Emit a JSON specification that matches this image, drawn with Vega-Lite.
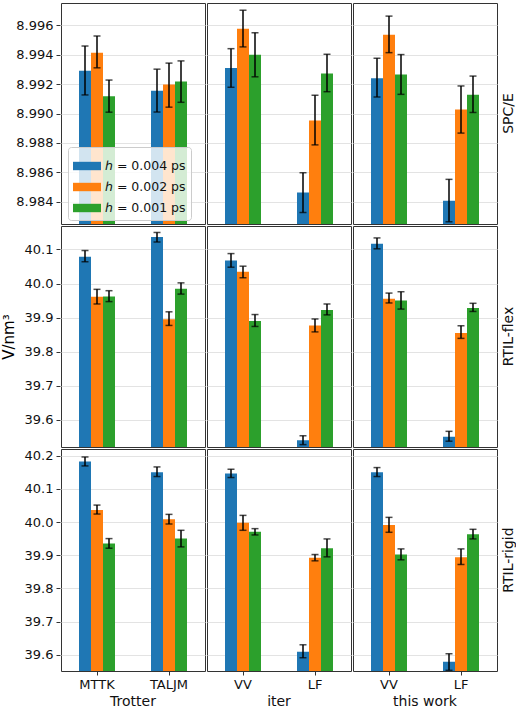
{
  "$schema": "https://vega.github.io/schema/vega-lite/v6.json",
  "padding": {"left": 1, "top": 2, "right": 0, "bottom": 0},
  "data": {
    "values": [
      {"system": "SPC/E", "group": "Trotter", "method": "MTTK", "h": "0.004", "v": 8.9929, "lo": 8.99126, "hi": 8.99458},
      {"system": "SPC/E", "group": "Trotter", "method": "MTTK", "h": "0.002", "v": 8.99413, "lo": 8.9931, "hi": 8.99526},
      {"system": "SPC/E", "group": "Trotter", "method": "MTTK", "h": "0.001", "v": 8.99117, "lo": 8.99009, "hi": 8.99227},
      {"system": "SPC/E", "group": "Trotter", "method": "TALJM", "h": "0.004", "v": 8.99155, "lo": 8.9901, "hi": 8.99301},
      {"system": "SPC/E", "group": "Trotter", "method": "TALJM", "h": "0.002", "v": 8.99196, "lo": 8.99043, "hi": 8.99342},
      {"system": "SPC/E", "group": "Trotter", "method": "TALJM", "h": "0.001", "v": 8.99218, "lo": 8.99076, "hi": 8.99357},
      {"system": "SPC/E", "group": "iter", "method": "VV", "h": "0.004", "v": 8.99308, "lo": 8.99178, "hi": 8.9944},
      {"system": "SPC/E", "group": "iter", "method": "VV", "h": "0.002", "v": 8.99575, "lo": 8.99452, "hi": 8.99701},
      {"system": "SPC/E", "group": "iter", "method": "VV", "h": "0.001", "v": 8.99398, "lo": 8.99249, "hi": 8.99548},
      {"system": "SPC/E", "group": "iter", "method": "LF", "h": "0.004", "v": 8.98463, "lo": 8.98328, "hi": 8.98598},
      {"system": "SPC/E", "group": "iter", "method": "LF", "h": "0.002", "v": 8.98953, "lo": 8.98787, "hi": 8.99124},
      {"system": "SPC/E", "group": "iter", "method": "LF", "h": "0.001", "v": 8.99272, "lo": 8.99148, "hi": 8.99402},
      {"system": "SPC/E", "group": "this work", "method": "VV", "h": "0.004", "v": 8.9924, "lo": 8.99112, "hi": 8.99375},
      {"system": "SPC/E", "group": "this work", "method": "VV", "h": "0.002", "v": 8.99535, "lo": 8.99413, "hi": 8.99661},
      {"system": "SPC/E", "group": "this work", "method": "VV", "h": "0.001", "v": 8.99265, "lo": 8.9913, "hi": 8.994},
      {"system": "SPC/E", "group": "this work", "method": "LF", "h": "0.004", "v": 8.98407, "lo": 8.98265, "hi": 8.98553},
      {"system": "SPC/E", "group": "this work", "method": "LF", "h": "0.002", "v": 8.99027, "lo": 8.98867, "hi": 8.99187},
      {"system": "SPC/E", "group": "this work", "method": "LF", "h": "0.001", "v": 8.99128, "lo": 8.99007, "hi": 8.99254},

      {"system": "RTIL-flex", "group": "Trotter", "method": "MTTK", "h": "0.004", "v": 40.079, "lo": 40.064, "hi": 40.097},
      {"system": "RTIL-flex", "group": "Trotter", "method": "MTTK", "h": "0.002", "v": 39.961, "lo": 39.94, "hi": 39.983},
      {"system": "RTIL-flex", "group": "Trotter", "method": "MTTK", "h": "0.001", "v": 39.962, "lo": 39.947, "hi": 39.979},
      {"system": "RTIL-flex", "group": "Trotter", "method": "TALJM", "h": "0.004", "v": 40.137, "lo": 40.122, "hi": 40.15},
      {"system": "RTIL-flex", "group": "Trotter", "method": "TALJM", "h": "0.002", "v": 39.895, "lo": 39.877, "hi": 39.917},
      {"system": "RTIL-flex", "group": "Trotter", "method": "TALJM", "h": "0.001", "v": 39.985, "lo": 39.969, "hi": 40.002},
      {"system": "RTIL-flex", "group": "iter", "method": "VV", "h": "0.004", "v": 40.068, "lo": 40.048, "hi": 40.088},
      {"system": "RTIL-flex", "group": "iter", "method": "VV", "h": "0.002", "v": 40.035, "lo": 40.017, "hi": 40.051},
      {"system": "RTIL-flex", "group": "iter", "method": "VV", "h": "0.001", "v": 39.89, "lo": 39.874, "hi": 39.909},
      {"system": "RTIL-flex", "group": "iter", "method": "LF", "h": "0.004", "v": 39.54, "lo": 39.527, "hi": 39.553},
      {"system": "RTIL-flex", "group": "iter", "method": "LF", "h": "0.002", "v": 39.877, "lo": 39.858, "hi": 39.896},
      {"system": "RTIL-flex", "group": "iter", "method": "LF", "h": "0.001", "v": 39.922, "lo": 39.908, "hi": 39.94},
      {"system": "RTIL-flex", "group": "this work", "method": "VV", "h": "0.004", "v": 40.117, "lo": 40.102, "hi": 40.134},
      {"system": "RTIL-flex", "group": "this work", "method": "VV", "h": "0.002", "v": 39.955, "lo": 39.943, "hi": 39.972},
      {"system": "RTIL-flex", "group": "this work", "method": "VV", "h": "0.001", "v": 39.95, "lo": 39.925, "hi": 39.976},
      {"system": "RTIL-flex", "group": "this work", "method": "LF", "h": "0.004", "v": 39.55, "lo": 39.537, "hi": 39.566},
      {"system": "RTIL-flex", "group": "this work", "method": "LF", "h": "0.002", "v": 39.855, "lo": 39.839, "hi": 39.876},
      {"system": "RTIL-flex", "group": "this work", "method": "LF", "h": "0.001", "v": 39.928, "lo": 39.918, "hi": 39.942},

      {"system": "RTIL-rigid", "group": "Trotter", "method": "MTTK", "h": "0.004", "v": 40.182, "lo": 40.169, "hi": 40.196},
      {"system": "RTIL-rigid", "group": "Trotter", "method": "MTTK", "h": "0.002", "v": 40.036, "lo": 40.024, "hi": 40.051},
      {"system": "RTIL-rigid", "group": "Trotter", "method": "MTTK", "h": "0.001", "v": 39.935, "lo": 39.921, "hi": 39.95},
      {"system": "RTIL-rigid", "group": "Trotter", "method": "TALJM", "h": "0.004", "v": 40.15, "lo": 40.137, "hi": 40.166},
      {"system": "RTIL-rigid", "group": "Trotter", "method": "TALJM", "h": "0.002", "v": 40.008, "lo": 39.994, "hi": 40.023},
      {"system": "RTIL-rigid", "group": "Trotter", "method": "TALJM", "h": "0.001", "v": 39.95, "lo": 39.925, "hi": 39.975},
      {"system": "RTIL-rigid", "group": "iter", "method": "VV", "h": "0.004", "v": 40.146, "lo": 40.134, "hi": 40.159},
      {"system": "RTIL-rigid", "group": "iter", "method": "VV", "h": "0.002", "v": 39.998, "lo": 39.975, "hi": 40.02},
      {"system": "RTIL-rigid", "group": "iter", "method": "VV", "h": "0.001", "v": 39.971, "lo": 39.961, "hi": 39.98},
      {"system": "RTIL-rigid", "group": "iter", "method": "LF", "h": "0.004", "v": 39.609, "lo": 39.591, "hi": 39.63},
      {"system": "RTIL-rigid", "group": "iter", "method": "LF", "h": "0.002", "v": 39.892, "lo": 39.883, "hi": 39.902},
      {"system": "RTIL-rigid", "group": "iter", "method": "LF", "h": "0.001", "v": 39.921, "lo": 39.895, "hi": 39.949},
      {"system": "RTIL-rigid", "group": "this work", "method": "VV", "h": "0.004", "v": 40.15, "lo": 40.137, "hi": 40.164},
      {"system": "RTIL-rigid", "group": "this work", "method": "VV", "h": "0.002", "v": 39.991, "lo": 39.969, "hi": 40.014},
      {"system": "RTIL-rigid", "group": "this work", "method": "VV", "h": "0.001", "v": 39.902, "lo": 39.886, "hi": 39.919},
      {"system": "RTIL-rigid", "group": "this work", "method": "LF", "h": "0.004", "v": 39.579, "lo": 39.553, "hi": 39.603},
      {"system": "RTIL-rigid", "group": "this work", "method": "LF", "h": "0.002", "v": 39.894, "lo": 39.872, "hi": 39.919},
      {"system": "RTIL-rigid", "group": "this work", "method": "LF", "h": "0.001", "v": 39.963, "lo": 39.949, "hi": 39.978}
    ]
  },
  "vconcat": [
    {
      "transform": [{"filter": "datum.system === 'SPC/E'"}],
      "facet": {
        "row": {"field": "system", "header": {"title": null, "labelOrient": "right", "labelAngle": -90, "labelAlign": "center", "labelBaseline": "bottom", "labelFontSize": 14, "labelPadding": 4}},
        "column": {"field": "group", "sort": ["Trotter", "iter", "this work"], "header": {"title": null, "labels": false}}
      },
      "spacing": {"row": 0, "column": 0},
      "resolve": {"scale": {"x": "independent", "xOffset": "independent"}},
      "spec": {
        "width": 144,
        "height": 221,
        "encoding": {
          "x": {"field": "method", "type": "nominal", "sort": ["MTTK", "TALJM", "VV", "LF"],
                "scale": {"paddingInner": 0.5, "paddingOuter": 0.25},
                "axis": {"title": null, "labels": false, "ticks": false, "domain": false, "bandPosition": 0.5}},
          "xOffset": {"field": "h", "sort": ["0.004", "0.002", "0.001"], "scale": {"paddingInner": 0, "paddingOuter": 0}}
        },
        "layer": [
          {"mark": {"type": "bar", "clip": true},
           "encoding": {
             "y": {"field": "v", "type": "quantitative", "scale": {"domain": [8.9825, 8.9975], "zero": false, "nice": false},
                   "axis": {"title": null, "values": [8.984, 8.986, 8.988, 8.99, 8.992, 8.994, 8.996], "format": ".3f", "labelOverlap": false}},
             "color": {"field": "h", "type": "nominal", "sort": ["0.004", "0.002", "0.001"],
                       "scale": {"domain": ["0.004", "0.002", "0.001"], "range": ["#1f77b4", "#ff7f0e", "#2ca02c"]},
                       "legend": {"title": null, "orient": "none", "legendX": 7, "legendY": 144,
                                  "labelExpr": "'ℎ = ' + datum.label + ' ps'"}}
           }},
          {"mark": {"type": "rule", "color": "black", "strokeWidth": 1.5, "clip": true},
           "encoding": {
             "y": {"field": "lo", "type": "quantitative", "scale": {"domain": [8.9825, 8.9975], "zero": false, "nice": false},
                   "axis": {"title": null, "values": [8.984, 8.986, 8.988, 8.99, 8.992, 8.994, 8.996], "format": ".3f", "labelOverlap": false}},
             "y2": {"field": "hi"}
           }},
          {"mark": {"type": "tick", "color": "black", "thickness": 1.5, "size": 7, "clip": true},
           "encoding": {"y": {"field": "lo", "type": "quantitative", "scale": {"domain": [8.9825, 8.9975], "zero": false, "nice": false},
                   "axis": {"title": null, "values": [8.984, 8.986, 8.988, 8.99, 8.992, 8.994, 8.996], "format": ".3f", "labelOverlap": false}}}},
          {"mark": {"type": "tick", "color": "black", "thickness": 1.5, "size": 7, "clip": true},
           "encoding": {"y": {"field": "hi", "type": "quantitative", "scale": {"domain": [8.9825, 8.9975], "zero": false, "nice": false},
                   "axis": {"title": null, "values": [8.984, 8.986, 8.988, 8.99, 8.992, 8.994, 8.996], "format": ".3f", "labelOverlap": false}}}}
        ]
      }
    },
    {
      "transform": [{"filter": "datum.system === 'RTIL-flex'"}],
      "facet": {
        "row": {"field": "system", "header": {"title": null, "labelOrient": "right", "labelAngle": -90, "labelAlign": "center", "labelBaseline": "bottom", "labelFontSize": 14, "labelPadding": 4}},
        "column": {"field": "group", "sort": ["Trotter", "iter", "this work"], "header": {"title": null, "labels": false}}
      },
      "spacing": {"row": 0, "column": 0},
      "resolve": {"scale": {"x": "independent", "xOffset": "independent"}},
      "spec": {
        "width": 144,
        "height": 221,
        "encoding": {
          "x": {"field": "method", "type": "nominal", "sort": ["MTTK", "TALJM", "VV", "LF"],
                "scale": {"paddingInner": 0.5, "paddingOuter": 0.25},
                "axis": {"title": null, "labels": false, "ticks": false, "domain": false, "bandPosition": 0.5}},
          "xOffset": {"field": "h", "sort": ["0.004", "0.002", "0.001"], "scale": {"paddingInner": 0, "paddingOuter": 0}}
        },
        "layer": [
          {"mark": {"type": "bar", "clip": true},
           "encoding": {
             "y": {"field": "v", "type": "quantitative", "scale": {"domain": [39.52, 40.169], "zero": false, "nice": false},
                   "axis": {"title": "V/nm³", "titleFontSize": 15, "titleFontWeight": "normal", "titlePadding": 8,
                            "values": [39.6, 39.7, 39.8, 39.9, 40.0, 40.1], "format": ".1f", "labelOverlap": false}},
             "color": {"field": "h", "type": "nominal", "sort": ["0.004", "0.002", "0.001"],
                       "scale": {"domain": ["0.004", "0.002", "0.001"], "range": ["#1f77b4", "#ff7f0e", "#2ca02c"]},
                       "legend": {"title": null, "orient": "none", "legendX": 7, "legendY": 144,
                                  "labelExpr": "'ℎ = ' + datum.label + ' ps'"}}
           }},
          {"mark": {"type": "rule", "color": "black", "strokeWidth": 1.5, "clip": true},
           "encoding": {
             "y": {"field": "lo", "type": "quantitative", "scale": {"domain": [39.52, 40.169], "zero": false, "nice": false},
                   "axis": {"title": "V/nm³", "titleFontSize": 15, "titleFontWeight": "normal", "titlePadding": 8,
                            "values": [39.6, 39.7, 39.8, 39.9, 40.0, 40.1], "format": ".1f", "labelOverlap": false}},
             "y2": {"field": "hi"}
           }},
          {"mark": {"type": "tick", "color": "black", "thickness": 1.5, "size": 7, "clip": true},
           "encoding": {"y": {"field": "lo", "type": "quantitative", "scale": {"domain": [39.52, 40.169], "zero": false, "nice": false},
                   "axis": {"title": "V/nm³", "titleFontSize": 15, "titleFontWeight": "normal", "titlePadding": 8,
                            "values": [39.6, 39.7, 39.8, 39.9, 40.0, 40.1], "format": ".1f", "labelOverlap": false}}}},
          {"mark": {"type": "tick", "color": "black", "thickness": 1.5, "size": 7, "clip": true},
           "encoding": {"y": {"field": "hi", "type": "quantitative", "scale": {"domain": [39.52, 40.169], "zero": false, "nice": false},
                   "axis": {"title": "V/nm³", "titleFontSize": 15, "titleFontWeight": "normal", "titlePadding": 8,
                            "values": [39.6, 39.7, 39.8, 39.9, 40.0, 40.1], "format": ".1f", "labelOverlap": false}}}}
        ]
      }
    },
    {
      "transform": [{"filter": "datum.system === 'RTIL-rigid'"}],
      "facet": {
        "row": {"field": "system", "header": {"title": null, "labelOrient": "right", "labelAngle": -90, "labelAlign": "center", "labelBaseline": "bottom", "labelFontSize": 14, "labelPadding": 4}},
        "column": {"field": "group", "sort": ["Trotter", "iter", "this work"],
                   "header": {"title": null, "labelOrient": "bottom", "labelFontSize": 14, "labelPadding": 3}}
      },
      "spacing": {"row": 0, "column": 0},
      "resolve": {"scale": {"x": "independent", "xOffset": "independent"}},
      "spec": {
        "width": 144,
        "height": 222,
        "encoding": {
          "x": {"field": "method", "type": "nominal", "sort": ["MTTK", "TALJM", "VV", "LF"],
                "scale": {"paddingInner": 0.5, "paddingOuter": 0.25},
                "axis": {"title": null, "labelAngle": 0, "domain": false, "bandPosition": 0.5}},
          "xOffset": {"field": "h", "sort": ["0.004", "0.002", "0.001"], "scale": {"paddingInner": 0, "paddingOuter": 0}}
        },
        "layer": [
          {"mark": {"type": "bar", "clip": true},
           "encoding": {
             "y": {"field": "v", "type": "quantitative", "scale": {"domain": [39.551, 40.22], "zero": false, "nice": false},
                   "axis": {"title": null, "values": [39.6, 39.7, 39.8, 39.9, 40.0, 40.1, 40.2], "format": ".1f", "labelOverlap": false}},
             "color": {"field": "h", "type": "nominal", "sort": ["0.004", "0.002", "0.001"],
                       "scale": {"domain": ["0.004", "0.002", "0.001"], "range": ["#1f77b4", "#ff7f0e", "#2ca02c"]},
                       "legend": {"title": null, "orient": "none", "legendX": 7, "legendY": 144,
                                  "labelExpr": "'ℎ = ' + datum.label + ' ps'"}}
           }},
          {"mark": {"type": "rule", "color": "black", "strokeWidth": 1.5, "clip": true},
           "encoding": {
             "y": {"field": "lo", "type": "quantitative", "scale": {"domain": [39.551, 40.22], "zero": false, "nice": false},
                   "axis": {"title": null, "values": [39.6, 39.7, 39.8, 39.9, 40.0, 40.1, 40.2], "format": ".1f", "labelOverlap": false}},
             "y2": {"field": "hi"}
           }},
          {"mark": {"type": "tick", "color": "black", "thickness": 1.5, "size": 7, "clip": true},
           "encoding": {"y": {"field": "lo", "type": "quantitative", "scale": {"domain": [39.551, 40.22], "zero": false, "nice": false},
                   "axis": {"title": null, "values": [39.6, 39.7, 39.8, 39.9, 40.0, 40.1, 40.2], "format": ".1f", "labelOverlap": false}}}},
          {"mark": {"type": "tick", "color": "black", "thickness": 1.5, "size": 7, "clip": true},
           "encoding": {"y": {"field": "hi", "type": "quantitative", "scale": {"domain": [39.551, 40.22], "zero": false, "nice": false},
                   "axis": {"title": null, "values": [39.6, 39.7, 39.8, 39.9, 40.0, 40.1, 40.2], "format": ".1f", "labelOverlap": false}}}}
        ]
      }
    }
  ],
  "spacing": 0,
  "resolve": {"scale": {"x": "independent", "y": "independent", "color": "shared"}, "legend": {"color": "shared"}},
  "config": {
    "font": "DejaVu Sans",
    "view": {"stroke": "#333", "strokeWidth": 1},
    "axis": {"labelFont": "DejaVu Sans", "titleFont": "DejaVu Sans", "labelFontSize": 13, "labelColor": "#111",
             "gridColor": "#e3e3e3", "gridWidth": 1, "tickColor": "#333", "tickSize": 4, "domain": false, "labelPadding": 3},
    "header": {"labelFont": "DejaVu Sans", "labelColor": "#111"},
    "legend": {"labelFont": "DejaVu Sans", "labelFontSize": 12.5, "labelColor": "#111",
               "symbolType": "M-1,-0.3H1V0.3H-1Z", "symbolSize": 784, "symbolStrokeWidth": 0, "symbolOpacity": 1,
               "fillColor": "rgba(255,255,255,0.8)", "strokeColor": "#ccc", "cornerRadius": 3, "padding": 5, "rowPadding": -2,
               "labelOffset": 4}
  }
}
